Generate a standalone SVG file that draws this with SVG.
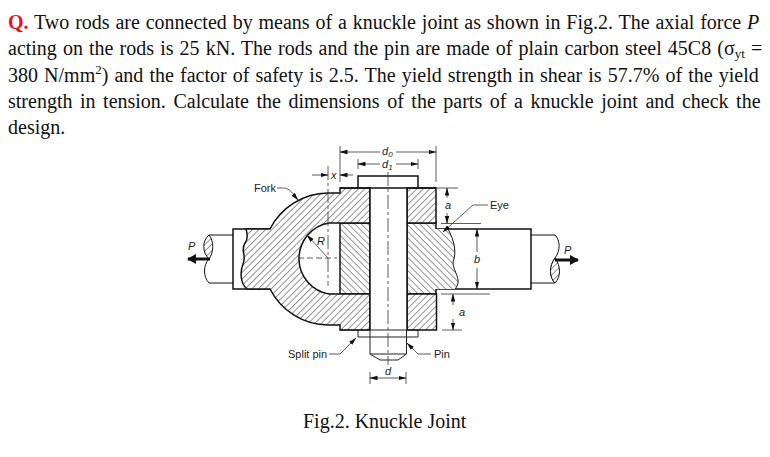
<svg xmlns="http://www.w3.org/2000/svg" width="770" height="457" viewBox="0 0 770 457">
<style>
.t{font-family:"Liberation Serif","Times New Roman",serif;font-size:20px;fill:#111}
.l{font-family:"Liberation Sans",Arial,sans-serif;font-size:11px;fill:#222}
.i{font-style:italic}
.o{fill:none;stroke:#111;stroke-width:1.5}
.h1{fill:url(#hf);stroke:#111;stroke-width:1.5}
.h2{fill:url(#he);stroke:#111;stroke-width:1.5}
.d{fill:none;stroke:#333;stroke-width:.8}
.m{fill:none;stroke:#333;stroke-width:.8;marker-end:url(#a)}
.c{fill:none;stroke:#333;stroke-width:.8;stroke-dasharray:14 3 3 3}
</style>
<defs>
<pattern id="hf" width="4.6" height="4.6" patternUnits="userSpaceOnUse" patternTransform="rotate(45)"><rect width="4.6" height="4.6" fill="#fff"/><line x1="0" y1="0" x2="0" y2="4.6" stroke="#666" stroke-width="1.4"/></pattern>
<pattern id="he" width="4.6" height="4.6" patternUnits="userSpaceOnUse" patternTransform="rotate(-45)"><rect width="4.6" height="4.6" fill="#fff"/><line x1="0" y1="0" x2="0" y2="4.6" stroke="#666" stroke-width="1.4"/></pattern>
<marker id="a" markerWidth="8" markerHeight="6" refX="7.5" refY="3" orient="auto-start-reverse" markerUnits="userSpaceOnUse"><path d="M0 .8L8 3L0 5.2z" fill="#111"/></marker>
<marker id="big" markerWidth="9" markerHeight="10" refX="8" refY="5" orient="auto" markerUnits="userSpaceOnUse"><path d="M0 0L9 5L0 10z" fill="#111"/></marker>
</defs>
<g id="question">
<text class="t" x="8" y="29" word-spacing="0.85"><tspan fill="#e8141c" font-weight="700">Q.</tspan> Two rods are connected by means of a knuckle joint as shown in Fig.2. The axial force <tspan class="i">P</tspan></text>
<text class="t" x="8" y="55" word-spacing="1.1">acting on the rods is 25 kN. The rods and the pin are made of plain carbon steel 45C8 (σ<tspan font-size="13" dy="3">yt</tspan><tspan dy="-3"> =</tspan></text>
<text class="t" x="8" y="82" word-spacing="1.1">380 N/mm<tspan font-size="13" dy="-8">2</tspan><tspan dy="8">) and the factor of safety is 2.5. The yield strength in shear is 57.7% of the yield</tspan></text>
<text class="t" x="8" y="108" word-spacing="2.55">strength in tension. Calculate the dimensions of the parts of a knuckle joint and check the</text>
<text class="t" x="8" y="134">design.</text>
</g>
<g id="rod-left">
<path class="o" d="M233 235H209M233 283H209" style="stroke-width:1"/>
<path class="h1" style="stroke-width:1" d="M209 235C202 241 202 252 209 259C214 252 214 241 209 235z"/>
<path class="o" style="stroke-width:1" d="M209 259C203 265 203 277 209 283"/>
<path class="o" d="M270 229H233V289H270"/>
</g>
<g id="rod-right">
<path class="o" style="stroke-width:1" d="M531 235H555C560 240 561 250 555 258C549 266 549 277 555 283H531"/>
<path class="h1" style="stroke-width:1" d="M555 258C561 266 561 277 555 283C549 277 549 266 555 258z"/>
</g>
<g id="eye">
<path fill="#fff" stroke="none" d="M407 229H531V289H407z"/>
<path class="o" d="M436 229H531V289H436"/>
<path fill="url(#he)" stroke="none" d="M340 223H436V229H448C454 240 457 252 453 262C453 272 463 280 455 289H436V294H340z"/>
<path fill="none" stroke="#111" stroke-width="1" d="M448 229C454 240 457 252 453 262C453 272 463 280 455 289"/>
<path class="o" d="M340 223H370V294H340zM407 223H436V229M407 294H436V289M407 223V294"/>
</g>
<g id="fork">
<path class="h1" d="M340 188H370V223H329A36 36 0 0 0 329 294H370V330H340V325H328A66 66 0 0 1 270 289H247C240 283 240 272 243 264C247 255 240 251 245 243C249 238 247 233 246 229H270A66 66 0 0 1 328 193H340z"/>
<rect class="h1" x="407" y="188" width="29" height="35"/>
<rect class="h1" x="407" y="294" width="29.500" height="36"/>
</g>
<g id="pin">
<path fill="#fff" stroke="none" d="M370 188H407V330H370z"/>
<path class="o" d="M358 188V176H418V188M340 188H436"/>
<path class="o" d="M370 188V330M407 188V330"/>
<path fill="none" stroke="#222" stroke-width="1" d="M340 330H418V337H358V330M370 330V354L380 360H398L406.500 354V330M370 354H406.500"/>
</g>
<g id="connectors">
<path class="c" d="M388 172V365"/>
<path class="c" d="M328 166V286"/>
<path fill="none" stroke="#333" stroke-width=".8" stroke-dasharray="6 3" d="M298 258H337"/>
<path class="m" d="M328 258L307 235"/>
<path class="d" d="M340 146V182M436 146V182M358 159V169M418 159V169"/>
<path class="m" d="M380 152H340"/><path class="m" d="M396 152H436"/>
<path class="m" d="M380 164H358"/><path class="m" d="M396 164H418"/>
<path class="m" d="M312 175H328"/><path class="m" d="M353 175H340"/>
<path class="d" d="M436 188H458M441 223.500H481M441 294H490M442 330H462"/>
<path class="m" d="M447 198V188"/><path class="m" d="M447 213V223.500"/>
<path class="m" d="M477 252V229"/><path class="m" d="M477 268V289"/>
<path class="m" d="M453 305V294"/><path class="m" d="M453 319V330"/>
<path class="d" d="M370 372V384M406 372V384"/>
<path class="m" marker-start="url(#a)" d="M370 378H406"/>
<path class="m" d="M277 188H283C290 188 293 194 298 200"/>
<path class="m" d="M488 205H473L443 232"/>
<path class="m" d="M329 354H340L356 338"/>
<path class="m" d="M431 354H418L407 343"/>
<path stroke="#111" stroke-width="3" fill="none" marker-end="url(#big)" d="M210 259H188"/>
<path stroke="#111" stroke-width="3" fill="none" marker-end="url(#big)" d="M555 260H578"/>
</g>
<g id="labels">
<text class="l" x="254" y="192">Fork</text>
<text class="l" x="490" y="209">Eye</text>
<text class="l" x="288" y="358">Split pin</text>
<text class="l" x="434" y="358">Pin</text>
<text class="l i" x="331" y="179">x</text>
<text class="l i" x="317" y="245">R</text>
<text class="l i" x="188" y="250">P</text>
<text class="l i" x="564" y="254">P</text>
<text class="l i" x="445" y="209">a</text>
<text class="l i" x="474" y="263">b</text>
<text class="l i" x="459" y="316">a</text>
<text class="l i" x="385" y="375">d</text>
<text class="l i" x="382" y="155">d<tspan font-size="8" dy="2">0</tspan></text>
<text class="l i" x="382" y="168">d<tspan font-size="8" dy="2">1</tspan></text>
</g>
<text id="caption" class="t" x="303" y="428">Fig.2. Knuckle Joint</text>
</svg>
